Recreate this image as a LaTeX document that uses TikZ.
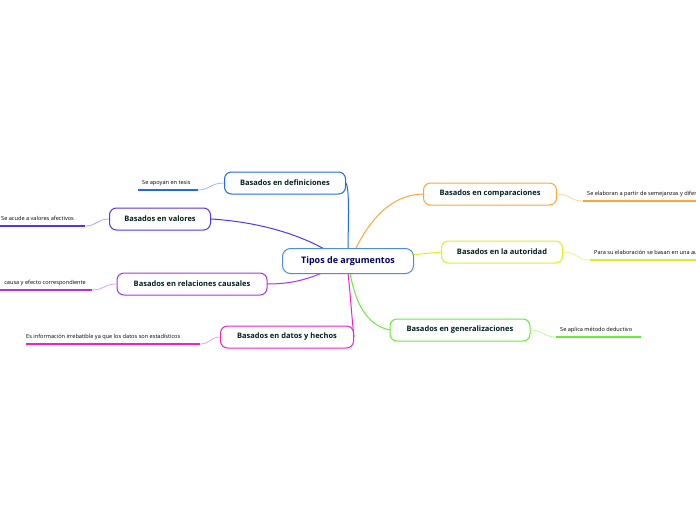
\documentclass[tikz,border=0pt]{standalone}
\usepackage{fontspec}
\setmainfont{Open Sans}
\begin{document}
\begin{tikzpicture}[x=1pt,y=-1pt,
  main/.style={draw=#1,line width=1pt,rounded corners=7pt,fill=white,font=\bfseries\fontsize{7.5}{9}\selectfont,text=black!60!teal!60!black,minimum height=22pt,inner xsep=8pt},
  root/.style={draw=#1,line width=1pt,rounded corners=8pt,fill=white,font=\bfseries\fontsize{9}{11}\selectfont,text=blue!40!black,minimum height=25pt,inner xsep=12pt},
  leaf/.style={font=\fontsize{5.6}{6.5}\selectfont,inner sep=1pt,anchor=west},
  con/.style={draw=#1,line width=1pt},
  ul/.style={draw=#1,line width=1.5pt}]
\useasboundingbox (0,0) rectangle (696,520);
\clip (0,0) rectangle (696,520);
\definecolor{cdef}{HTML}{2266EE}
\definecolor{cval}{HTML}{5533EE}
\definecolor{ccau}{HTML}{AA33EE}
\definecolor{cdat}{HTML}{EE22CC}
\definecolor{ccom}{HTML}{FFA533}
\definecolor{caut}{HTML}{DDEE22}
\definecolor{cgen}{HTML}{66EE33}
\definecolor{croot}{HTML}{4A90D0}
% connectors from root
\draw[con=cdef] (346,183) .. controls (350,190) and (348,230) .. (348,250);
\draw[con=cval] (211,219) .. controls (260,222) and (300,235) .. (326,250);
\draw[con=ccau] (267,284) .. controls (290,284) and (305,280) .. (322,273);
\draw[con=cdat] (354,337) .. controls (352,320) and (350,290) .. (348,273);
\draw[con=ccom] (423,194) .. controls (385,195) and (365,230) .. (355,250);
\draw[con=caut] (442,252) .. controls (430,253) and (420,254) .. (412,255);
\draw[con=cgen] (390,330) .. controls (365,325) and (355,300) .. (350,273);
\node[root=croot,minimum width=131pt] (root) at (348,261) {Tipos de argumentos};
\node[main=cdef,minimum width=121pt] (def) at (285,183) {Basados en definiciones};
\node[main=cval,minimum width=101pt] (val) at (160,219) {Basados en valores};
\node[main=ccau,minimum width=150pt] (cau) at (192,284) {Basados en relaciones causales};
\node[main=cdat,minimum width=133pt] (dat) at (287,337) {Basados en datos y hechos};
\node[main=ccom,minimum width=133pt] (com) at (490,194) {Basados en comparaciones};
\node[main=caut,minimum width=121pt] (aut) at (502,252) {Basados en la autoridad};
\node[main=cgen,minimum width=140pt] (gen) at (460,330) {Basados en generalizaciones};
% leaves
\node[leaf] (l1) at (141,183) {Se apoyan en tesis};
\draw[ul=cdef] (138,190) -- (198,190);
\draw[con=cdef!50,line width=0.7pt] (def.west) .. controls (210,183) and (210,190) .. (198,190);
\node[leaf] (l2) at (0,218) {Se acude a valores afectivos};
\draw[ul=cval] (0,226) -- (85,226);
\draw[con=cval!50,line width=0.7pt] (val.west) .. controls (97,219) and (97,226) .. (85,226);
\node[leaf,anchor=east] (l3) at (87,283) {causa y efecto correspondiente};
\draw[ul=ccau] (0,290) -- (92,290);
\draw[con=ccau!50,line width=0.7pt] (cau.west) .. controls (104,284) and (104,290) .. (92,290);
\node[leaf] (l4) at (25,337) {Es información irrebatible ya que los datos son estadísticos};
\draw[ul=cdat] (26,344) -- (200,344);
\draw[con=cdat!50,line width=0.7pt] (dat.west) .. controls (210,337) and (210,344) .. (200,344);
\node[leaf] (l5) at (586,194) {Se elaboran a partir de semejanzas y diferencias};
\draw[ul=ccom] (583,201) -- (696,201);
\draw[con=ccom!50,line width=0.7pt] (com.east) .. controls (570,194) and (570,201) .. (583,201);
\node[leaf] (l6) at (593,252) {Para su elaboración se basan en una autoridad};
\draw[ul=caut] (590,260) -- (696,260);
\draw[con=caut!60,line width=0.7pt] (aut.east) .. controls (577,252) and (577,260) .. (590,260);
\node[leaf] (l7) at (559,330) {Se aplica método deductivo};
\draw[ul=cgen] (556,337) -- (641,337);
\draw[con=cgen!50,line width=0.7pt] (gen.east) .. controls (543,330) and (543,337) .. (556,337);
\end{tikzpicture}
\end{document}
